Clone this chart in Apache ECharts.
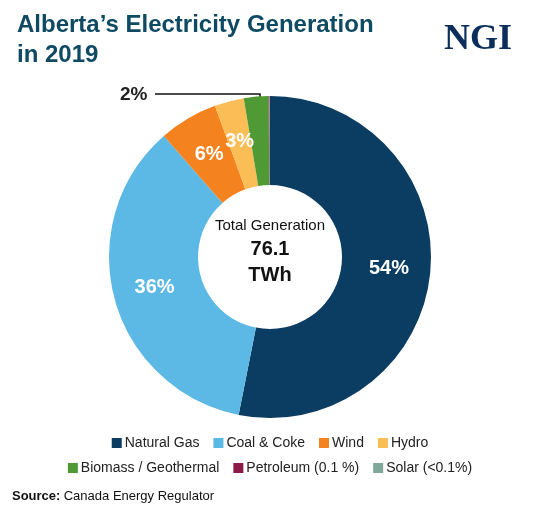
<!DOCTYPE html>
<html><head><meta charset="utf-8">
<script src="https://cdn.jsdelivr.net/npm/echarts@6/dist/echarts.min.js"></script>
<style>html,body{margin:0;background:#fff}#c{width:540px;height:514px}</style>
</head><body><div id="c"></div>
<script>
const names = ['Natural Gas','Coal & Coke','Wind','Hydro','Biomass / Geothermal','Petroleum (0.1 %)','Solar (<0.1%)'];
const values = [54, 36, 6, 3, 2.5, 0.1, 0.05];
const labels = ['54%','36%','6%','3%','','',''];
const colors = ['#0b3d63','#5cb8e4','#f4821f','#fbbd55','#4f9a35','#8b1a4a','#7fa89a'];

const chart = echarts.init(document.getElementById('c'));
const font = 'Arial, "Liberation Sans", sans-serif';
chart.setOption({
  animation:false,
  textStyle:{fontFamily:font},
  title:{text:'Alberta\u2019s Electricity Generation\nin 2019',left:12,top:5,
    textStyle:{color:'#0e4a63',fontSize:24,fontWeight:'bold',lineHeight:30,fontFamily:font}},
  legend:[
    {data:names.slice(0,4),top:431,left:'center',itemWidth:10,itemHeight:10,itemGap:14,icon:'rect',
     textStyle:{fontSize:14,color:'#222',padding:[0,0,0,-2]}},
    {data:names.slice(4),top:456,left:'center',itemWidth:10,itemHeight:10,itemGap:14,icon:'rect',
     textStyle:{fontSize:14,color:'#222',padding:[0,0,0,-2]}}
  ],
  graphic:[
    {type:'text',right:28,top:22,style:{text:'NGI',fontFamily:'"Liberation Serif", serif',fontWeight:'bold',fontSize:36,fill:'#0b2e5c'}},
    {type:'text',left:12,top:490,style:{rich:{b:{fontWeight:'bold',fontSize:13,fill:'#111',fontFamily:font},n:{fontSize:13,fill:'#111',fontFamily:font}},
      text:'{b|Source:} {n|Canada Energy Regulator}'}},
    {type:'text',left:120,top:85,style:{text:'2%',fontFamily:font,fontWeight:'bold',fontSize:19,fill:'#222'}},
    {type:'polyline',shape:{points:[[155,94],[260,94],[260,104]]},style:{stroke:'#111',lineWidth:1.5,fill:null}},
    {type:'text',x:270,y:226,style:{text:'Total Generation',align:'center',verticalAlign:'middle',fontFamily:font,fontSize:15,fill:'#111'}},
    {type:'text',x:270,y:262,style:{text:'76.1\nTWh',align:'center',verticalAlign:'middle',fontFamily:font,fontSize:20,fontWeight:'bold',lineHeight:26,fill:'#111'}}
  ],
  series:[{
    type:'pie',center:[270,257],radius:[72,161],startAngle:90,clockwise:true,
    itemStyle:{borderColor:'#fff',borderWidth:0},
    label:{position:'inside',color:'#fff',fontWeight:'bold',fontSize:20,formatter:p=>labels[p.dataIndex]},
    labelLine:{show:false},
    data:names.map((n,i)=>({name:n,value:values[i],itemStyle:{color:colors[i]}}))
  }]
});
</script></body></html>
